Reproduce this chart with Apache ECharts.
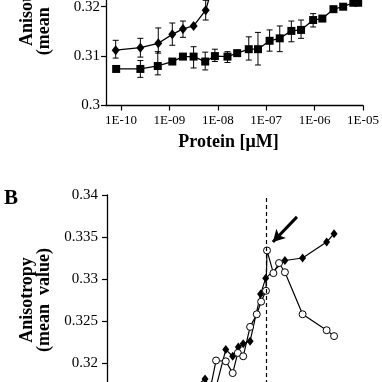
<!DOCTYPE html>
<html><head><meta charset="utf-8">
<script src="https://cdn.jsdelivr.net/npm/echarts@6/dist/echarts.min.js"></script>
<style>html,body{margin:0;padding:0;background:#fff}#c{width:382px;height:382px}</style>
</head><body><div id="c"></div>
<script>
// ---- Panel A (top): x = log10(Protein [µM]) ----
const topTickExps = [-10, -9, -8, -7, -6, -5];
const topYTicks = [0.3, 0.31, 0.32];
const topDiamondX = [-10.11, -9.60, -9.23, -8.94, -8.72, -8.50, -8.25, -8.07];
const topDiamondY = [0.3112, 0.3117, 0.3126, 0.3144, 0.3155, 0.3161, 0.3193, 0.3254];
const topDiamondLo = [0.3096, 0.3098, 0.3106, 0.3122, 0.3138, null, 0.3173, null];
const topDiamondHi = [0.3132, 0.3136, 0.3157, 0.3167, 0.3171, null, 0.3213, null];
const topSquareX = [-10.10, -9.60, -9.24, -8.94, -8.72, -8.50, -8.26, -8.06, -7.80, -7.60, -7.36, -7.17, -6.93, -6.72, -6.48, -6.28, -6.03, -5.84, -5.61, -5.41, -5.20, -5.10];
const topSquareY = [0.3074, 0.3074, 0.3080, 0.3089, 0.3099, 0.3099, 0.3089, 0.3100, 0.3099, 0.3106, 0.3114, 0.3114, 0.3131, 0.3136, 0.3151, 0.3153, 0.3173, 0.3176, 0.3195, 0.3200, 0.3208, 0.3208];
const topSquareLo = [null, 0.3057, 0.3062, null, null, 0.3076, 0.3072, 0.3089, 0.3087, null, 0.3092, 0.3082, 0.3110, 0.3109, 0.3129, 0.3136, 0.3159, null, null, null, null, null];
const topSquareHi = [null, 0.3091, 0.3109, null, null, 0.3119, 0.3108, 0.3114, 0.3109, null, 0.3139, 0.3148, 0.3153, 0.3161, 0.3171, 0.3173, 0.3186, null, null, null, null, null];

// ---- Panel B (bottom): arbitrary x units ----
const botDiamondX = [32.4, 38.3, 41.8, 46.4, 49.1, 51.3, 53.2, 55.9, 60.0, 62.0, 69.5, 76.4, 85.8, 88.7];
const botDiamondY = [0.3166, 0.3181, 0.3162, 0.3216, 0.3208, 0.3219, 0.3223, 0.3226, 0.3282, 0.3301, 0.3322, 0.3325, 0.3344, 0.3354];
const botCircleX = [40.6, 42.6, 46.4, 49.1, 51.1, 53.2, 55.9, 58.5, 60.2, 62.1, 62.5, 65.0, 67.2, 69.5, 76.4, 85.8, 88.7];
const botCircleY = [0.3173, 0.3203, 0.3202, 0.3188, 0.3212, 0.3208, 0.3243, 0.3258, 0.3273, 0.3286, 0.3334, 0.3307, 0.3319, 0.3308, 0.3258, 0.3239, 0.3232];
const botYTicks = [0.32, 0.325, 0.33, 0.335, 0.34];
const dashedX = 62.1;
const arrowFrom = [74.2, 0.3374];
const arrowTo = [64.8, 0.3344];

const FONT = '"Liberation Serif", "Times New Roman", serif';
const zip = (xs, ys) => xs.map((x, i) => [x, ys[i]]);
const errData = (xs, lo, hi) => xs.map((x, i) => [x, lo[i], hi[i]]).filter(d => d[1] != null);

function errRender(params, api) {
  const x = api.value(0);
  const a = api.coord([x, api.value(1)]);
  const b = api.coord([x, api.value(2)]);
  const w = 3;
  const st = { stroke: '#000', lineWidth: 1 };
  return { type: 'group', children: [
    { type: 'line', shape: { x1: a[0], y1: a[1], x2: b[0], y2: b[1] }, style: st },
    { type: 'line', shape: { x1: a[0] - w, y1: a[1], x2: a[0] + w, y2: a[1] }, style: st },
    { type: 'line', shape: { x1: b[0] - w, y1: b[1], x2: b[0] + w, y2: b[1] }, style: st }
  ]};
}

const axisLine = { show: true, lineStyle: { color: '#000', width: 1.3 } };
const axisTick = { show: true, length: 5, lineStyle: { color: '#000', width: 1.2 } };
const yName = 'Anisotropy\n(mean  value)';
const yNameStyle = { fontFamily: FONT, fontWeight: 'bold', fontSize: 18, lineHeight: 17, color: '#000' };

const option = {
  animation: false,
  backgroundColor: '#fff',
  grid: [
    { left: 106, right: 19, top: -99, bottom: 276.5, outerBoundsMode: 'none', containLabel: false },
    { left: 107, right: 19, top: 195, bottom: -23, outerBoundsMode: 'none', containLabel: false }
  ],
  xAxis: [
    { gridIndex: 0, type: 'value', min: -10.31, max: -5,
      axisLine, axisTick: Object.assign({ customValues: topTickExps }, axisTick), splitLine: { show: false },
      axisLabel: { customValues: topTickExps, margin: 9, fontFamily: FONT, fontSize: 13, color: '#000',
        formatter: v => '1E' + (v < 0 ? '-' : '+') + String(Math.abs(Math.round(v))).padStart(2, '0') },
      name: 'Protein [μM]', nameLocation: 'middle', nameGap: 28,
      nameTextStyle: { fontFamily: FONT, fontWeight: 'bold', fontSize: 18, color: '#000', padding: [0, 12, 0, 0] } },
    { gridIndex: 1, type: 'value', min: 0, max: 100, show: false }
  ],
  yAxis: [
    { gridIndex: 0, type: 'value', min: 0.3, max: 0.3414,
      axisLine, axisTick: Object.assign({ customValues: topYTicks }, axisTick), splitLine: { show: false },
      axisLabel: { customValues: topYTicks, margin: 6, fontFamily: FONT, fontSize: 15, color: '#000', formatter: v => String(+v.toFixed(3)) },
      name: yName, nameLocation: 'middle', nameRotate: 90, nameGap: 53, nameTextStyle: yNameStyle },
    { gridIndex: 1, type: 'value', min: 0.315, max: 0.34, interval: 0.005,
      axisLine, axisTick, splitLine: { show: false },
      axisLabel: { margin: 9, fontFamily: FONT, fontSize: 15, color: '#000', formatter: v => String(+v.toFixed(3)) },
      name: yName, nameLocation: 'middle', nameRotate: 90, nameGap: 53, nameTextStyle: yNameStyle }
  ],
  graphic: [
    { type: 'text', left: 4, top: 188, style: { text: 'B', font: 'bold 21px ' + FONT, fill: '#000' } }
  ],
  series: [
    { type: 'custom', xAxisIndex: 0, yAxisIndex: 0, renderItem: errRender, data: errData(topDiamondX, topDiamondLo, topDiamondHi), z: 1, silent: true },
    { type: 'custom', xAxisIndex: 0, yAxisIndex: 0, renderItem: errRender, data: errData(topSquareX, topSquareLo, topSquareHi), z: 1, silent: true },
    { type: 'line', xAxisIndex: 0, yAxisIndex: 0, data: zip(topDiamondX, topDiamondY), symbol: 'diamond', symbolSize: [8, 10],
      itemStyle: { color: '#000' }, lineStyle: { color: '#000', width: 1.3 }, z: 3 },
    { type: 'line', xAxisIndex: 0, yAxisIndex: 0, data: zip(topSquareX, topSquareY), symbol: 'rect', symbolSize: 8,
      itemStyle: { color: '#000' }, lineStyle: { color: '#000', width: 1.3 }, z: 3 },
    { type: 'line', xAxisIndex: 1, yAxisIndex: 1, data: zip(botDiamondX, botDiamondY), symbol: 'diamond', symbolSize: [7, 9],
      itemStyle: { color: '#000' }, lineStyle: { color: '#000', width: 1.2 }, z: 3,
      markLine: { silent: true, animation: false, label: { show: false }, symbol: ['none', 'arrow'], symbolSize: [10, 12],
        lineStyle: { type: 'solid', color: '#000', width: 3 },
        data: [ [ { coord: arrowFrom }, { coord: arrowTo } ] ] } },
    { type: 'line', xAxisIndex: 1, yAxisIndex: 1, data: zip(botCircleX, botCircleY), symbol: 'circle', symbolSize: 7,
      showAllSymbol: true,
      itemStyle: { color: '#fff', borderColor: '#000', borderWidth: 1 }, lineStyle: { color: '#000', width: 1.2 }, z: 4,
      markLine: { silent: true, animation: false, label: { show: false }, symbol: ['none', 'none'],
        lineStyle: { type: [4, 3], color: '#000', width: 1.2 },
        data: [ { xAxis: dashedX } ] } }
  ]
};
const chart = echarts.init(document.getElementById('c'), null, { renderer: 'canvas' });
chart.setOption(option);
</script></body></html>
